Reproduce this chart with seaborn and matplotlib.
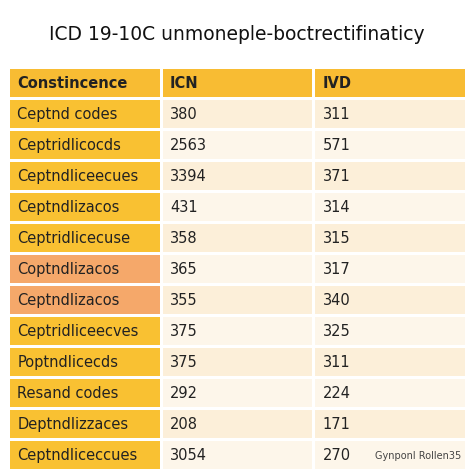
import numpy as np
import matplotlib.pyplot as plt
import seaborn as sns
from matplotlib.colors import ListedColormap

title = "ICD 19-10C unmoneple-boctrectifinaticy"
headers = ["Constincence", "ICN", "IVD"]
labels = ["Ceptnd codes", "Ceptridlicocds", "Ceptndliceecues", "Ceptndlizacos",
          "Ceptridlicecuse", "Coptndlizacos", "Ceptndlizacos", "Ceptridliceecves",
          "Poptndlicecds", "Resand codes", "Deptndlizzaces", "Ceptndliceccues"]
icn = [380, 2563, 3394, 431, 358, 365, 355, 375, 375, 292, 208, 3054]
ivd = [311, 571, 371, 314, 315, 317, 340, 325, 311, 224, 171, 270]
highlight = [5, 6]

# colour codes: 0 header yellow, 1 label yellow, 2 label orange, 3 cream a, 4 cream b
n = len(labels)
codes = np.zeros((n + 1, 3))
for i in range(n):
    codes[i + 1, 0] = 2 if i in highlight else 1
    codes[i + 1, 1:] = 3 if i % 2 == 0 else 4
cmap = ListedColormap(["#F8BC33", "#F9C132", "#F5A86A", "#FCEFD9", "#FDF6EA"])

text = [headers] + [[labels[i], str(icn[i]), str(ivd[i])] for i in range(n)]

fig = plt.figure(figsize=(4.74, 4.74), dpi=100)
ax = fig.add_axes([8 / 474, 4 / 474, 458 / 474, 403 / 474])
sns.heatmap(codes, cmap=cmap, vmin=-0.5, vmax=4.5, cbar=False, ax=ax,
            linewidths=1.0, linecolor="white", xticklabels=False, yticklabels=False)
for r in range(n + 1):
    for c in range(3):
        ax.text(c + 0.06, r + 0.52, text[r][c], va="center", ha="left",
                fontsize=10.5, color="#222222",
                fontweight="bold" if r == 0 else "normal")
ax.text(2.97, n + 0.55, "Gynponl Rollen35", ha="right", va="center",
        fontsize=7, color="#444444")
fig.text(0.5, 1 - 35 / 474, title, ha="center", va="center", fontsize=13.5,
         color="#111111")
fig.savefig("out.png", dpi=100, facecolor="white")
